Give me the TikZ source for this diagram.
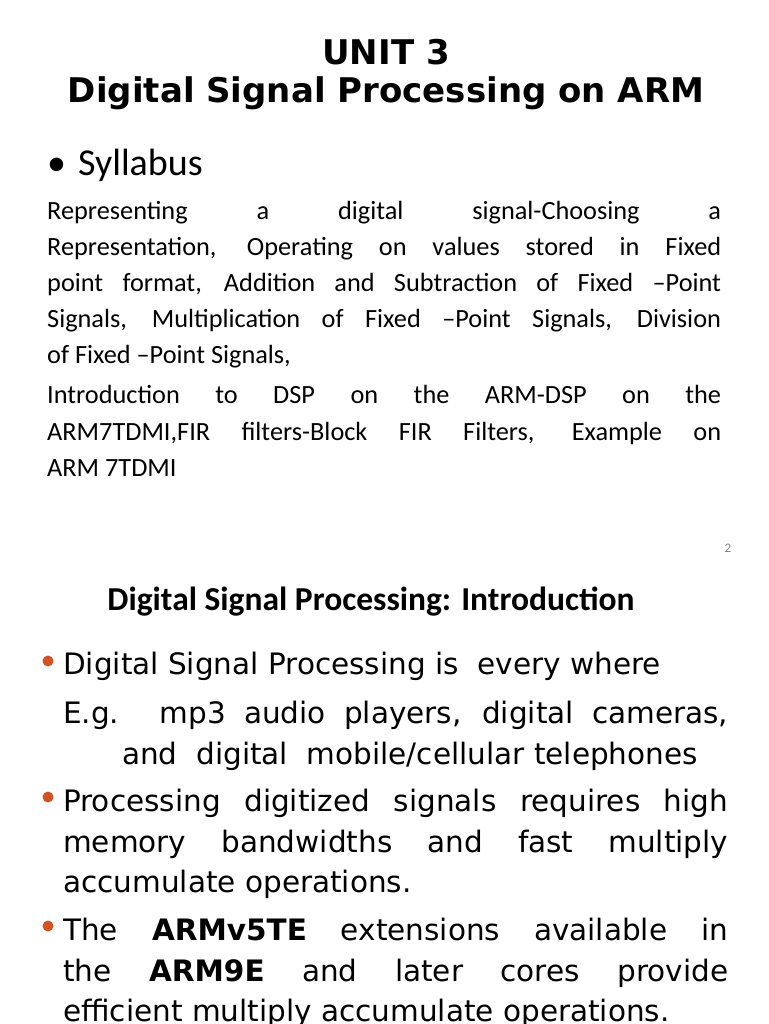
\documentclass[tikz,border=0pt]{standalone}
\usepackage{fontspec}
\setmainfont{Carlito}
\newfontfamily\dejavu{DejaVu Sans}
\definecolor{bul}{HTML}{D35122}
\newcommand{\jline}[2]{{\spaceskip=0.3em plus 1fil\hbox to #1{#2}}}
\tikzset{ln/.style={anchor=base west,inner sep=0pt},
 body/.style={ln,font=\fontsize{26.3}{30}\selectfont},
 dj/.style={ln,font=\dejavu\fontsize{29.5}{34}\selectfont},
 dot/.style={circle,fill=bul,inner sep=0pt,minimum size=11pt}}
\begin{document}
\begin{tikzpicture}[x=1pt,y=-1pt]
\useasboundingbox (0,0) rectangle (768,1024);
\clip (0,0) rectangle (768,1024);
\fill[white] (0,0) rectangle (768,1024);
\node[font=\dejavu\bfseries\fontsize{34}{40}\selectfont] (t1) at (386,52) {UNIT 3};
\node[font=\dejavu\bfseries\fontsize{34}{40}\selectfont] (t2) at (386,93) {Digital Signal Processing on ARM};
\node[ln,font=\fontsize{38}{42}\selectfont] (syl) at (47,176) {\textbullet\hspace{12pt}Syllabus};
\node[body] (p1) at (47,219) {\jline{674pt}{Representing a digital signal-Choosing a}};
\node[body] (p2) at (47,255) {\jline{674pt}{Representation, Operating on values stored in Fixed}};
\node[body] (p3) at (47,291) {\jline{674pt}{point format, Addition and Subtraction of Fixed –Point}};
\node[body] (p4) at (47,327) {\jline{674pt}{Signals, Multiplication of Fixed –Point Signals, Division}};
\node[body] (p5) at (47,363) {of Fixed –Point Signals,};
\node[body] (q1) at (47,403) {\jline{674pt}{Introduction to DSP on the ARM-DSP on the}};
\node[body] (q2) at (47,440) {\jline{674pt}{ARM7TDMI,FIR filters-Block FIR Filters, Example on}};
\node[body] (q3) at (47,476) {ARM 7TDMI};
\node[font=\fontsize{13}{15}\selectfont,text=gray] (pg) at (728,548) {2};
\node[font=\bfseries\fontsize{33.5}{38}\selectfont] (h) at (371,602) {Digital Signal Processing: Introduction};
\node[dot] (b1) at (48,661) {};
\node[dj] (a1) at (63,674) {Digital Signal Processing is \ every where};
\node[dj] (a2) at (63,723) {\jline{665pt}{E.g. mp3 audio players, digital cameras,}};
\node[dj] (a3) at (122,764) {and \ digital \ mobile/cellular telephones};
\node[dot] (b2) at (48,797) {};
\node[dj] (c1) at (63,811) {\jline{665pt}{Processing digitized signals requires high}};
\node[dj] (c2) at (63,852) {\jline{665pt}{memory bandwidths and fast multiply}};
\node[dj] (c3) at (63,892) {accumulate operations.};
\node[dot] (b3) at (48,926) {};
\node[dj] (d1) at (63,940) {\jline{665pt}{The \textbf{ARMv5TE} extensions available in}};
\node[dj] (d2) at (63,981) {\jline{665pt}{the \textbf{ARM9E} and later cores provide}};
\node[dj] (d3) at (63,1021) {efficient multiply accumulate operations.};
\end{tikzpicture}
\end{document}
